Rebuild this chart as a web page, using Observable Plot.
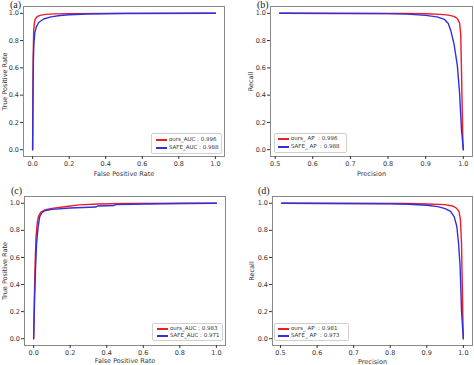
<!DOCTYPE html>
<html><head><meta charset="utf-8">
<script src="https://cdn.jsdelivr.net/npm/d3@7"></script>
<script src="https://cdn.jsdelivr.net/npm/@observablehq/plot@0.6"></script>
<style>
body{margin:0;background:#fff;}
#wrap{position:relative;width:474px;height:365px;overflow:hidden;font-family:"DejaVu Sans",sans-serif;}
.panel{position:absolute;}
.tag{position:absolute;font-family:"Liberation Serif","DejaVu Serif",serif;font-size:10px;color:#222;line-height:1;}
.leg{position:absolute;border:1px solid #d0d0d0;border-radius:2px;background:#fff;box-sizing:border-box;}
.leg .ln{position:absolute;height:2px;}
.leg .tx{position:absolute;font-size:5.5px;color:#333;white-space:pre;line-height:1;}
</style></head>
<body><div id="wrap"></div>
<script>
// ---- data ----
const rocA_ours = [[0,0],[0.001,0.3],[0.003,0.7],[0.006,0.88],[0.01,0.935],[0.015,0.96],[0.025,0.975],[0.04,0.985],[0.07,0.992],[0.12,0.996],[0.2,0.998],[0.4,0.9995],[1,1]];
const rocA_safe = [[0,0],[0.002,0.4],[0.004,0.65],[0.007,0.78],[0.012,0.86],[0.02,0.9],[0.033,0.933],[0.06,0.958],[0.1,0.974],[0.15,0.984],[0.2,0.99],[0.3,0.995],[0.5,0.999],[1,1]];
const prB_ours = [[0.512,1],[0.85,0.999],[0.9,0.997],[0.94,0.992],[0.96,0.987],[0.975,0.978],[0.984,0.962],[0.99,0.93],[0.993,0.85],[0.995,0.6],[0.997,0.3],[0.999,0.05],[1,0]];
const prB_safe = [[0.512,1],[0.8,0.998],[0.85,0.994],[0.9,0.985],[0.93,0.974],[0.95,0.955],[0.96,0.925],[0.967,0.87],[0.975,0.78],[0.984,0.62],[0.99,0.42],[0.995,0.15],[1,0]];
const rocC_ours = [[0,0],[0.004,0.3],[0.008,0.55],[0.013,0.75],[0.02,0.86],[0.027,0.905],[0.04,0.935],[0.06,0.95],[0.1,0.962],[0.18,0.976],[0.25,0.988],[0.35,0.995],[0.5,0.998],[1,1]];
const rocC_safe = [[0,0],[0.005,0.28],[0.01,0.5],[0.016,0.7],[0.024,0.82],[0.033,0.9],[0.045,0.93],[0.06,0.945],[0.1,0.955],[0.2,0.965],[0.34,0.972],[0.35,0.98],[0.44,0.984],[0.45,0.99],[0.6,0.995],[0.8,0.998],[1,1]];
const prD_ours = [[0.503,1],[0.85,0.998],[0.9,0.995],[0.95,0.99],[0.97,0.98],[0.98,0.966],[0.988,0.94],[0.992,0.88],[0.995,0.7],[0.997,0.4],[0.999,0.1],[1,0]];
const prD_safe = [[0.503,1],[0.8,0.997],[0.85,0.993],[0.9,0.985],[0.93,0.975],[0.95,0.96],[0.965,0.94],[0.975,0.9],[0.982,0.83],[0.987,0.7],[0.991,0.54],[0.995,0.2],[1,0]];

const rocTicks = [0, 0.2, 0.4, 0.6, 0.8, 1.0];
const prTicks = [0.5, 0.6, 0.7, 0.8, 0.9, 1.0];
const yTicks = [0, 0.2, 0.4, 0.6, 0.8, 1.0];
const panelTags = ["(a)", "(b)", "(c)", "(d)"];
const legendOurs = ["ours_AUC : 0.996", "ours_ AP  : 0.996", "ours_AUC : 0.983", "ours_ AP  : 0.981"];
const legendSafe = ["SAFE_AUC : 0.988", "SAFE_ AP  : 0.988", "SAFE_AUC : 0.971", "SAFE_ AP  : 0.973"];
const xLabels = ["False Positive Rate", "Precision", "False Positive Rate", "Precision"];
const yLabels = ["True Positive Rate", "Recall", "True Positive Rate", "Recall"];

const RED = "#ee1c25", BLUE = "#3030e0";

// ---- layout ----
const layout = [
  {left:0,   top:0,   w:237, h:182, mt:6,  mb:26, ml:23, mr:13, xdom:[-0.05,1.05], ticks:rocTicks, ours:rocA_ours, safe:rocA_safe, xlo:19.5, ylo:21,
   tag:{x:10,y:0}, leg:{x:151,y:133,w:71,h:21,lx:4,tx:17,r1:6,r2:14}},
  {left:237, top:0,   w:237, h:182, mt:6,  mb:26, ml:33, mr:2,  xdom:[0.4876,1.0244], ticks:prTicks, ours:prB_ours, safe:prB_safe, xlo:19.5, ylo:22,
   tag:{x:20,y:0}, leg:{x:274,y:133,w:73,h:20,lx:2.5,tx:16,r1:5,r2:13}},
  {left:0,   top:182, w:237, h:183, mt:14, mb:20, ml:24, mr:12, xdom:[-0.05,1.05], ticks:rocTicks, ours:rocC_ours, safe:rocC_safe, xlo:17.5, ylo:22,
   tag:{x:11,y:4}, leg:{x:152,y:323,w:71,h:18,lx:4,tx:17,r1:5,r2:12}},
  {left:237, top:182, w:237, h:183, mt:14, mb:20, ml:35, mr:2,  xdom:[0.478,1.025], ticks:prTicks, ours:prD_ours, safe:prD_safe, xlo:18.5, ylo:23,
   tag:{x:21,y:4}, leg:{x:274,y:323,w:75,h:18,lx:2.5,tx:16,r1:5,r2:12}}
];

const wrap = document.getElementById("wrap");
const fmt = d3.format(".1f");

layout.forEach((p, i) => {
  const chart = Plot.plot({
    width: p.w, height: p.h,
    marginTop: p.mt, marginBottom: p.mb, marginLeft: p.ml, marginRight: p.mr,
    style: {fontFamily: "DejaVu Sans, sans-serif", fontSize: "6.5px", color: "#333", background: "transparent", overflow: "visible"},
    x: {domain: p.xdom},
    y: {domain: [-0.05, 1.05]},
    marks: [
      Plot.line(p.ours, {x: d => d[0], y: d => d[1], stroke: RED, strokeWidth: 1.4}),
      Plot.line(p.safe, {x: d => d[0], y: d => d[1], stroke: BLUE, strokeWidth: 1.4}),
      Plot.frame({stroke: "#8a8a8a", strokeWidth: 1}),
      Plot.axisX({ticks: p.ticks, tickFormat: fmt, tickSize: 3, tickPadding: 1.5, fontSize: 6.5,
        label: xLabels[i], labelAnchor: "center", labelOffset: p.xlo, labelArrow: "none"}),
      Plot.axisY({ticks: yTicks, tickFormat: fmt, tickSize: 3, tickPadding: 1.5, fontSize: 6.5,
        label: yLabels[i], labelAnchor: "center", labelOffset: p.ylo, labelArrow: "none"})
    ]
  });
  const holder = document.createElement("div");
  holder.className = "panel";
  holder.style.left = p.left + "px";
  holder.style.top = p.top + "px";
  holder.appendChild(chart);
  wrap.appendChild(holder);

  const tag = document.createElement("div");
  tag.className = "tag";
  tag.textContent = panelTags[i];
  tag.style.left = (p.left + p.tag.x) + "px";
  tag.style.top = (p.top + p.tag.y) + "px";
  wrap.appendChild(tag);

  const leg = document.createElement("div");
  leg.className = "leg";
  Object.assign(leg.style, {left: p.leg.x + "px", top: p.leg.y + "px", width: p.leg.w + "px", height: p.leg.h + "px"});
  [[RED, legendOurs[i], p.leg.r1], [BLUE, legendSafe[i], p.leg.r2]].forEach(([c, t, r]) => {
    const ln = document.createElement("div");
    ln.className = "ln";
    Object.assign(ln.style, {left: Math.round(p.leg.lx) + "px", top: Math.round(r - 1) + "px", width: "11px", background: c});
    const tx = document.createElement("div");
    tx.className = "tx";
    tx.textContent = t;
    Object.assign(tx.style, {left: p.leg.tx + "px", top: (r - 3) + "px"});
    leg.appendChild(ln);
    leg.appendChild(tx);
  });
  wrap.appendChild(leg);
});
</script>
</body></html>
